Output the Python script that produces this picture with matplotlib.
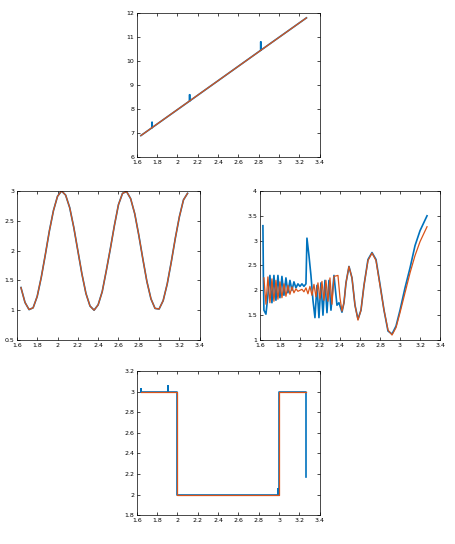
import matplotlib.pyplot as plt

blue = '#0072BD'
orange = '#D95319'

# panel 1: straight line with small glitches in the blue trace
lin_x = [1.64, 3.27]
lin_y = [6.9, 11.8]
lin_bx = [1.64, 1.75, 1.75, 1.75, 2.12, 2.12, 2.12, 2.82, 2.82, 2.82, 3.27]
lin_by = [6.9, 7.23, 7.45, 7.23, 8.34, 8.6, 8.34, 10.45, 10.8, 10.45, 11.8]

# panel 2: periodic wave
sin_x = [1.64 + 0.04 * i for i in range(42)]
sin_y = [1.38, 1.13, 1.01, 1.04, 1.23, 1.55, 1.93, 2.33, 2.67, 2.91, 3.00,
         2.93, 2.72, 2.39, 2.00, 1.61, 1.28, 1.07, 1.00, 1.09, 1.31, 1.66,
         2.03, 2.42, 2.77, 2.96, 2.99, 2.87, 2.62, 2.26, 1.86, 1.48, 1.19,
         1.03, 1.02, 1.16, 1.44, 1.81, 2.21, 2.57, 2.85, 2.96]

# panel 3: chirp-like signal
ch_x = [1.64, 1.66, 1.68, 1.70, 1.72, 1.74, 1.76, 1.78, 1.80, 1.82, 1.84,
        1.86, 1.88, 1.90, 1.92, 1.94, 1.96, 1.98, 2.00, 2.02, 2.04, 2.06,
        2.08, 2.10, 2.12, 2.14, 2.16, 2.18, 2.20, 2.22, 2.24, 2.26, 2.28,
        2.30, 2.32, 2.34, 2.38, 2.40, 2.42, 2.44, 2.46, 2.49, 2.52, 2.55,
        2.58, 2.61, 2.64, 2.68, 2.72, 2.76, 2.80, 2.84, 2.88, 2.92, 2.96,
        3.00, 3.05, 3.10, 3.15, 3.20, 3.27]
ch_y = [2.25, 1.72, 2.27, 1.75, 2.23, 1.78, 2.20, 1.82, 2.17, 1.85, 2.13,
        1.88, 2.10, 1.92, 2.07, 1.95, 2.03, 1.98, 2.00, 2.02, 1.97, 2.05,
        1.93, 2.08, 1.90, 2.12, 1.87, 2.15, 1.83, 2.18, 1.80, 2.20, 1.78,
        2.25, 1.72, 2.28, 2.30, 1.85, 1.58, 1.75, 2.15, 2.48, 2.25, 1.70,
        1.40, 1.60, 2.10, 2.60, 2.75, 2.60, 2.10, 1.60, 1.20, 1.10, 1.25,
        1.55, 1.95, 2.35, 2.70, 2.98, 3.28]
chb_x = [1.63, 1.635, 1.64, 1.66, 1.68, 1.70, 1.72, 1.74, 1.76, 1.78, 1.80,
         1.82, 1.84, 1.86, 1.88, 1.90, 1.92, 1.94, 1.96, 1.98, 2.00, 2.02,
         2.04, 2.06, 2.07, 2.09, 2.11, 2.13, 2.15, 2.17, 2.19, 2.21, 2.23,
         2.25, 2.27, 2.29, 2.31, 2.34, 2.37, 2.39, 2.42, 2.44, 2.46, 2.49,
         2.52, 2.55, 2.58, 2.61, 2.64, 2.68, 2.72, 2.76, 2.80, 2.84, 2.88,
         2.92, 2.96, 3.00, 3.05, 3.10, 3.15, 3.20, 3.27]
chb_y = [3.30, 2.20, 1.60, 1.52, 1.90, 2.30, 1.75, 2.30, 1.80, 2.30, 1.85,
         2.28, 1.90, 2.25, 1.95, 2.20, 2.00, 2.17, 2.05, 2.13, 2.08, 2.13,
         2.08, 2.13, 3.05, 2.70, 2.30, 1.80, 1.45, 2.10, 1.45, 2.15, 1.50,
         2.20, 1.55, 2.20, 1.60, 2.30, 1.70, 1.75, 1.56, 1.75, 2.15, 2.48,
         2.25, 1.70, 1.42, 1.60, 2.10, 2.62, 2.76, 2.62, 2.12, 1.60, 1.18,
         1.12, 1.28, 1.60, 2.05, 2.45, 2.90, 3.20, 3.50]

# panel 4: square step
sq_x = [1.64, 2.0, 2.0, 3.0, 3.0, 3.27]
sq_y = [3.0, 3.0, 2.0, 2.0, 3.0, 3.0]
sqb_x = [1.64, 1.64, 1.64, 1.91, 1.91, 1.91, 2.0, 2.0, 2.99, 2.99, 2.99,
         3.0, 3.0, 3.27, 3.27]
sqb_y = [3.0, 3.03, 3.0, 3.0, 3.05, 3.0, 3.0, 2.0, 2.0, 2.05, 2.0,
         2.0, 3.0, 3.0, 2.17]

fig = plt.figure(figsize=(4.56, 5.44), dpi=100)
ax1 = fig.add_axes([0.300, 0.711, 0.401, 0.265])
ax2 = fig.add_axes([0.037, 0.375, 0.401, 0.274])
ax3 = fig.add_axes([0.570, 0.375, 0.395, 0.274])
ax4 = fig.add_axes([0.300, 0.053, 0.401, 0.265])

ax1.plot(lin_bx, lin_by, color=blue, lw=1.2)
ax1.plot(lin_x, lin_y, color=orange, lw=0.9)
ax2.plot(sin_x, sin_y, color=blue, lw=1.2)
ax2.plot(sin_x, sin_y, color=orange, lw=0.9)
ax3.plot(chb_x, chb_y, color=blue, lw=1.2)
ax3.plot(ch_x, ch_y, color=orange, lw=0.9)
ax4.plot(sqb_x, sqb_y, color=blue, lw=1.2)
ax4.plot(sq_x, sq_y, color=orange, lw=0.9)

lims = [(ax1, 6, 12, range(6, 13)), (ax2, 0.5, 3, [0.5, 1, 1.5, 2, 2.5, 3]),
        (ax3, 1, 4, [1, 1.5, 2, 2.5, 3, 3.5, 4]),
        (ax4, 1.8, 3.2, [1.8, 2, 2.2, 2.4, 2.6, 2.8, 3, 3.2])]
xt = [1.6, 1.8, 2, 2.2, 2.4, 2.6, 2.8, 3, 3.2, 3.4]
for ax, lo, hi, yt in lims:
    ax.set_xlim(1.6, 3.4)
    ax.set_ylim(lo, hi)
    ax.set_xticks(xt)
    ax.set_xticklabels(['%g' % v for v in xt])
    ax.set_yticks(list(yt))
    ax.set_yticklabels(['%g' % v for v in yt])
    ax.tick_params(direction='in', top=True, right=True, labelsize=4.5,
                   length=2, width=0.5, pad=2)
    for s in ax.spines.values():
        s.set_linewidth(0.5)

fig.savefig('out.png', dpi=100)
